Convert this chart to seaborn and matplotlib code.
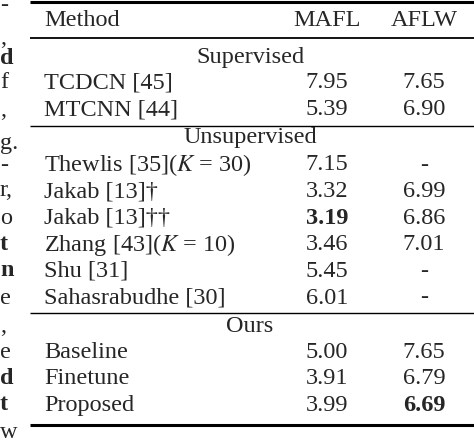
import matplotlib
matplotlib.use("Agg")
import matplotlib.pyplot as plt
import seaborn as sns

sns.set_theme(style="white")
plt.rcParams['font.family'] = ['Liberation Serif', 'DejaVu Serif']
plt.rcParams['mathtext.fontset'] = 'stix'

sections = ["Supervised", "Unsupervised", "Ours"]
methods = [
    ["TCDCN [45]", "MTCNN [44]"],
    ["Thewlis [35]($K$ = 30)", "Jakab [13]†", "Jakab [13]††", "Zhang [43]($K$ = 10)", "Shu [31]", "Sahasrabudhe [30]"],
    ["Baseline", "Finetune", "Proposed"],
]
mafl = [["7.95", "5.39"], ["7.15", "3.32", "3.19", "3.46", "5.45", "6.01"], ["5.00", "3.91", "3.99"]]
aflw = [["7.65", "6.90"], ["-", "6.99", "6.86", "7.01", "-", "-"], ["7.65", "6.79", "6.69"]]
bold_mafl = "3.19"
bold_aflw = "6.69"
margin_frags = ["-", ",", "d", "f", ",", "g.", "-", "r,", "o", "t", "n", "e", ",", "e", "d", "t", "w"]
margin_y = [5, 38, 58, 83, 110, 143, 165, 191, 218, 245, 271, 298, 326, 352, 379, 405, 432]

fig = plt.figure(figsize=(4.74, 4.42), dpi=100)
ax = fig.add_axes([0, 0, 1, 1])
ax.set_xlim(0, 474)
ax.set_ylim(442, 0)
ax.axis("off")

fs = 17.5
x0, x1 = 30, 474
xm, xa, xs = 327, 424, 250

def hline(y, lw):
    ax.plot([x0, x1], [y, y], color="black", lw=lw, solid_capstyle="butt")

hline(2, 2.2)
ax.text(44, 20, "Method", fontsize=fs, va="center")
ax.text(xm, 20, "MAFL", fontsize=fs, va="center", ha="center")
ax.text(xa, 20, "AFLW", fontsize=fs, va="center", ha="center")
hline(38, 1.3)

sec_y = [57, 138, 326]
row_start = [83, 165, 352]
line_after = [126, 313, None]
step = 26.6
for s, name in enumerate(sections):
    ax.text(xs, sec_y[s], name, fontsize=fs, va="center", ha="center")
    for i, m in enumerate(methods[s]):
        y = row_start[s] + i * step
        ax.text(44, y, m, fontsize=fs, va="center")
        v = mafl[s][i]
        ax.text(xm, y, v, fontsize=fs, va="center", ha="center",
                fontweight="bold" if v == bold_mafl and s == 1 else "normal")
        v = aflw[s][i]
        ax.text(xa, y, v, fontsize=fs, va="center", ha="center",
                fontweight="bold" if v == bold_aflw and s == 2 else "normal")
    if line_after[s]:
        hline(line_after[s], 1.0)
hline(425, 2.2)

for t, y in zip(margin_frags, margin_y):
    ax.text(0, y, t, fontsize=fs, va="center", ha="left", fontweight="bold" if t in "dnt" else "normal")

fig.savefig("out.png", dpi=100)
